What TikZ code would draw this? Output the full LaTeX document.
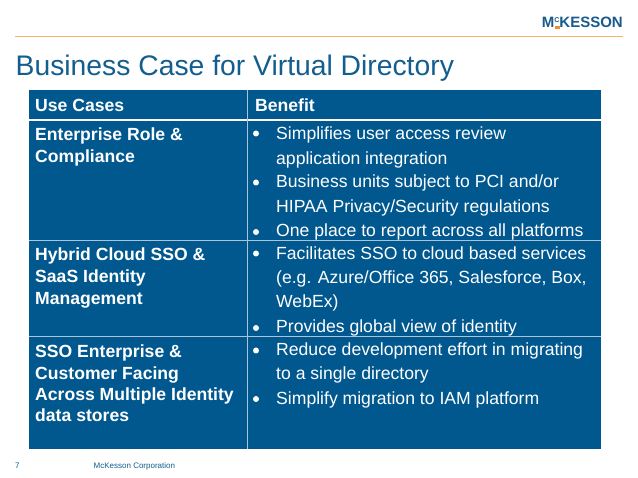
\documentclass[tikz,border=0pt]{standalone}
\usepackage{fontspec}
\setmainfont{Liberation Sans}
\definecolor{tblue}{HTML}{00588F}
\definecolor{titleblue}{HTML}{135E8E}
\definecolor{orangeline}{HTML}{F2B56B}
\definecolor{logoblue}{HTML}{1A5A8C}
\definecolor{logoor}{HTML}{F0902A}
\definecolor{sep}{HTML}{A8C4DA}
\tikzset{
 px/.style={x=1pt,y=-1pt},
 cell/.style={anchor=base west,inner sep=0pt,text=white,font=\fontsize{17.6pt}{20pt}\selectfont},
 head/.style={cell,font=\fontsize{17.6pt}{20pt}\selectfont\bfseries},
}
\begin{document}
\begin{tikzpicture}[px]
\useasboundingbox (0,0) rectangle (638,478);
\fill[white] (0,0) rectangle (638,478);
\draw[orangeline,line width=0.9pt] (15,36.3) -- (623,36.3);
\node[anchor=base east,inner sep=0pt,text=logoblue,font=\fontsize{15pt}{16pt}\selectfont\bfseries] (logo) at (623,28) {M\raisebox{5pt}{\fontsize{7pt}{8pt}\selectfont C}KESSON};
\fill[logoor] (554.5,26) rectangle (560,28.6);
\node[anchor=base west,inner sep=0pt,text=titleblue,font=\fontsize{28.3pt}{30pt}\selectfont] (title) at (15.5,75.5) {Business Case for Virtual Directory};
% table
\fill[tblue] (29,90) rectangle (600.5,119);
\fill[tblue] (29,121.5) rectangle (600.5,449.5);
\draw[sep,line width=0.7pt] (247.5,90) -- (247.5,449.5);
\draw[sep,line width=0.7pt] (29,240.5) -- (600.5,240.5);
\draw[sep,line width=0.7pt] (29,336.5) -- (600.5,336.5);
% left column
\node[head] (h1) at (35,112) {Use Cases};
\node[head] (h2) at (255,112) {Benefit};
\node[head] (a1) at (35,141) {Enterprise Role \&};
\node[head] (a2) at (35,163) {Compliance};
\node[head] (b1) at (35,261) {Hybrid Cloud SSO \&};
\node[head] (b2) at (35,283) {SaaS Identity};
\node[head] (b3) at (35,305) {Management};
\node[head] (c1) at (35,358) {SSO Enterprise \&};
\node[head] (c2) at (35,380) {Customer Facing};
\node[head] (c3) at (35,401) {Across Multiple Identity};
\node[head] (c4) at (35,422) {data stores};
% right column
\foreach \nm/\y in {p1/140,p2/164.5,p3/188,p4/212.5,p5/237,p6/259.5,p7/284,p8/308,p9/333,p10/356,p11/380,p12/405}{\coordinate (\nm) at (276,\y);}
\node[cell] (t1) at (p1) {Simplifies user access review};
\node[cell] (t2) at (p2) {application integration};
\node[cell] (t3) at (p3) {Business units subject to PCI and/or};
\node[cell] (t4) at (p4) {HIPAA Privacy/Security regulations};
\node[cell] (t5) at (p5) {One place to report across all platforms};
\node[cell] (t6) at (p6) {Facilitates SSO to cloud based services};
\node[cell] (t7) at (p7) {(e.g. Azure/Office 365, Salesforce, Box,};
\node[cell] (t8) at (p8) {WebEx)};
\node[cell] (t9) at (p9) {Provides global view of identity};
\node[cell] (t10) at (p10) {Reduce development effort in migrating};
\node[cell] (t11) at (p11) {to a single directory};
\node[cell] (t12) at (p12) {Simplify migration to IAM platform};
\foreach \y in {133.5,182.5,232,253.5,328,350.5,399}{\fill[white] (256,\y) circle (3);}
% footer
\node[anchor=base west,inner sep=0pt,text=titleblue,font=\fontsize{8pt}{8pt}\selectfont] (pg) at (15,468.5) {7};
\node[anchor=base west,inner sep=0pt,text=titleblue,font=\fontsize{8pt}{8pt}\selectfont] (corp) at (93.5,468.5) {McKesson Corporation};
\end{tikzpicture}
\end{document}
